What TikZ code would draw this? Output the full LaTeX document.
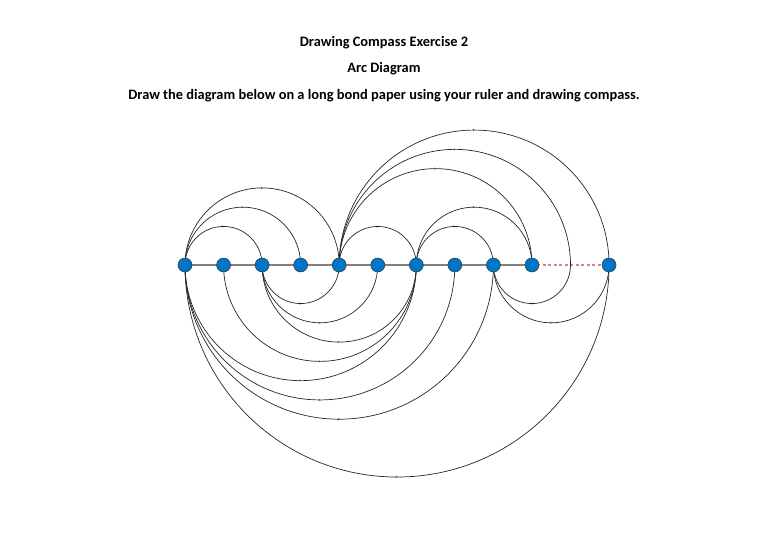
\documentclass[tikz,border=0pt]{standalone}
\usepackage{fontspec}
\setmainfont{Carlito}
\usetikzlibrary{decorations.markings}
\definecolor{nodeblue}{RGB}{0,118,200}
\definecolor{dotpink}{RGB}{230,120,150}
\begin{document}
\begin{tikzpicture}[x=1pt,y=-1pt,
  vert/.style={circle,draw=black!80,fill=nodeblue,inner sep=0pt,minimum size=14pt,line width=0.5pt},
  arcline/.style={draw=black!85,line width=0.7pt,postaction={decorate},decoration={markings,mark=at position 0.5 with {\arrow[scale=0.5]{>}}}},
  ttl/.style={font=\bfseries\fontsize{14.4}{17}\selectfont}]
\useasboundingbox (0,0) rectangle (768,543);
\node[ttl] (t1) at (384,43) {Drawing Compass Exercise 2};
\node[ttl] (t2) at (384,69) {Arc Diagram};
\node[ttl] (t3) at (384,96) {Draw the diagram below on a long bond paper using your ruler and drawing compass.};
\def\sp{38.55}
\foreach \i in {0,...,11} { \coordinate (p\i) at (185+\i*\sp,265); }
\draw[black!50,line width=2.5pt] (p0) -- (p9);
\draw[dotpink,line width=2.5pt,dash pattern=on 3pt off 2.5pt] (p9) -- (p11);
% upper arcs (y axis is flipped, so angles go through 360)
\foreach \a/\b in {0/2,0/3,0/4,4/6,4/9,4/10,4/11,6/8,6/9} {
  \pgfmathsetmacro\r{(\b-\a)*\sp/2}
  \draw[arcline] (p\a) arc[start angle=180,end angle=360,radius=\r];
}
% lower arcs
\foreach \a/\b in {2/4,2/5,2/6,1/6,0/6,0/7,0/8,0/11,8/10,8/11} {
  \pgfmathsetmacro\r{(\b-\a)*\sp/2}
  \draw[arcline] (p\a) arc[start angle=180,end angle=0,radius=\r];
}
\foreach \i/\k in {0/0,1/1,2/2,3/3,4/4,5/5,6/6,7/7,8/8,9/9,10/11} { \node[vert] (v\i) at (p\k) {}; }
\end{tikzpicture}
\end{document}
